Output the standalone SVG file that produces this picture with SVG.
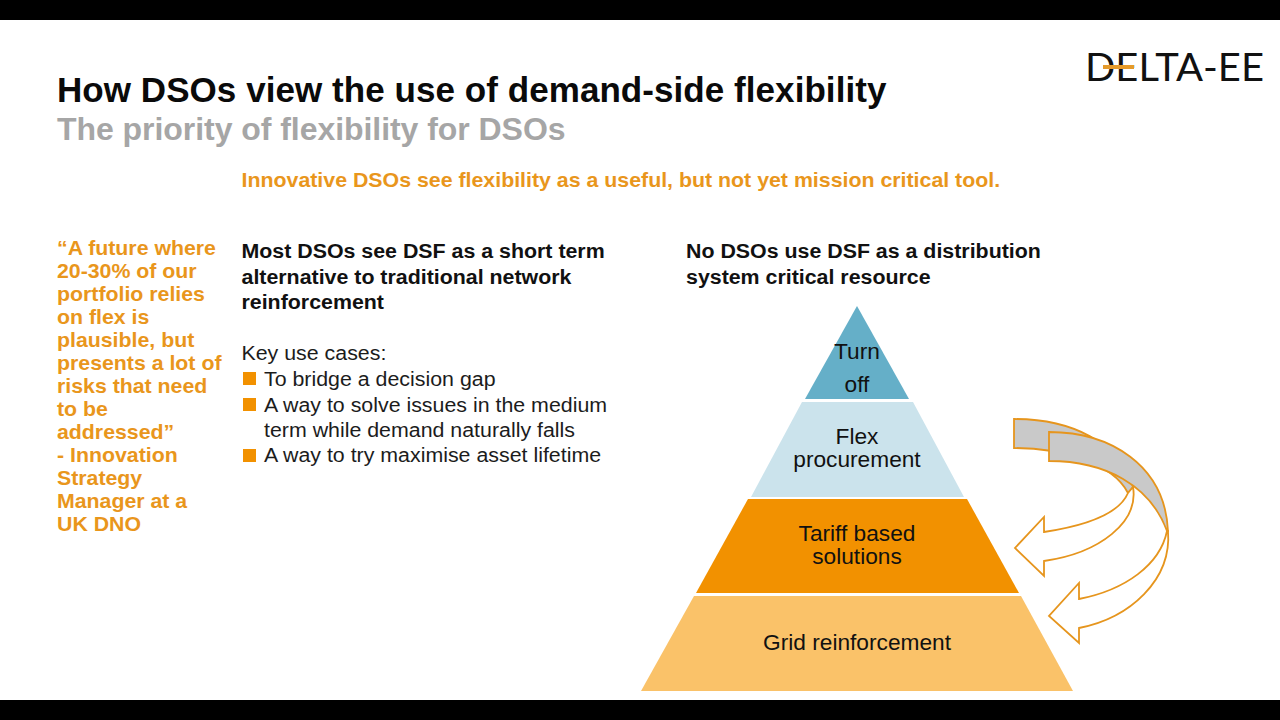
<svg xmlns="http://www.w3.org/2000/svg" width="1280" height="720" viewBox="0 0 1280 720">
<style>
text{font-family:"Liberation Sans",Arial,sans-serif}
.b{font-weight:bold;font-size:20px;fill:#111}
.o{font-weight:bold;font-size:20px;fill:#e9961c}
.n{font-size:20px;fill:#1c1c1c}
.p{font-size:22.700px;fill:#111;text-anchor:middle}
.arrow{stroke:#e6951d;stroke-width:1.8;stroke-linejoin:miter}
</style>
<rect width="1280" height="720" fill="#000"/>
<rect y="20" width="1280" height="680" fill="#fff"/>
<g id="logo">
<text x="1085" y="81" font-size="38" textLength="179" lengthAdjust="spacingAndGlyphs" style="font-family:Lato,'Liberation Sans',sans-serif;font-weight:400" fill="#111">DELTA-EE</text>
<rect x="1103" y="65" width="31" height="4" fill="#e59a2a"/>
</g>
<g id="heading">
<text x="57" y="102" font-size="35" font-weight="bold" fill="#0a0a0a" letter-spacing=".06">How DSOs view the use of demand-side flexibility</text>
<text x="57" y="140" font-size="32" font-weight="bold" fill="#a6a6a6" letter-spacing="-.05">The priority of flexibility for DSOs</text>
<g transform="translate(241.500 0) scale(1.067 1)"><text x="0" y="187" class="o">Innovative DSOs see flexibility as a useful, but not yet mission critical tool.</text></g>
</g>
<g id="quote" transform="translate(57 0) scale(1.065 1)">
<text class="o" x="0" y="255">“A future where</text>
<text class="o" x="0" y="278">20-30% of our</text>
<text class="o" x="0" y="301">portfolio relies</text>
<text class="o" x="0" y="324">on flex is</text>
<text class="o" x="0" y="347">plausible, but</text>
<text class="o" x="0" y="370">presents a lot of</text>
<text class="o" x="0" y="393">risks that need</text>
<text class="o" x="0" y="416">to be</text>
<text class="o" x="0" y="439">addressed”</text>
<text class="o" x="0" y="462">- Innovation</text>
<text class="o" x="0" y="485">Strategy</text>
<text class="o" x="0" y="508">Manager at a</text>
<text class="o" x="0" y="531">UK DNO</text>
</g>
<g id="middle-column">
<rect x="243" y="372" width="13" height="13" fill="#f29100"/>
<rect x="243" y="398" width="13" height="13" fill="#f29100"/>
<rect x="243" y="449" width="13" height="13" fill="#f29100"/>
<g transform="translate(241.500 0) scale(1.068 1)">
<text class="b" x="0" y="258">Most DSOs see DSF as a short term</text>
<text class="b" x="0" y="284">alternative to traditional network</text>
<text class="b" x="0" y="309">reinforcement</text>
<text class="n" x="0" y="360">Key use cases:</text>
<text class="n" x="21.070" y="386">To bridge a decision gap</text>
<text class="n" x="21.070" y="412">A way to solve issues in the medium</text>
<text class="n" x="21.070" y="437">term while demand naturally falls</text>
<text class="n" x="21.070" y="462">A way to try maximise asset lifetime</text>
</g>
</g>
<g id="right-heading" transform="translate(686 0) scale(1.068 1)">
<text class="b" x="0" y="258">No DSOs use DSF as a distribution</text>
<text class="b" x="0" y="284">system critical resource</text>
</g>
<g id="level-turn-off">
<polygon points="857,306 909,399 805,399" fill="#65afc8"/>
<text class="p" x="857" y="359">Turn</text>
<text class="p" x="857" y="392">off</text>
</g>
<g id="level-flex">
<polygon points="802,402 913,402 964,497 751,497" fill="#cbe3ec"/>
<text class="p" x="857" y="444">Flex</text>
<text class="p" x="857" y="467">procurement</text>
</g>
<g id="level-tariff">
<polygon points="748,499 967,499 1019,593 696,593" fill="#f29100"/>
<text class="p" x="857" y="541">Tariff based</text>
<text class="p" x="857" y="564">solutions</text>
</g>
<g id="level-grid">
<polygon points="694,596 1021,596 1073,691 641,691" fill="#fac269"/>
<text class="p" x="857" y="650">Grid reinforcement</text>
</g>
<g id="connectors" fill="#fff">
<g id="arrow-back">
<path class="arrow" d="M1014,419 C1072,419 1118,442 1133,487 L1128,493 C1112,462 1060,448 1014,448 Z" fill="#c9c9c9"/>
<path class="arrow" d="M1133,487 C1139,522 1100,553 1044,561 L1044,576 L1015,548 L1044,517 L1044,532 C1090,525 1120,512 1128,493 Z"/>
</g>
<g id="arrow-front">
<path class="arrow" d="M1049,432 C1110,432 1165,465 1168,531 L1167,531 C1150,485 1105,461 1049,461 Z" fill="#c9c9c9"/>
<path class="arrow" d="M1168,531 C1172,580 1130,618 1079,628 L1079,643 L1049,616 L1079,583 L1079,599 C1125,590 1160,565 1167,531 Z"/>
</g>
</g>
</svg>
